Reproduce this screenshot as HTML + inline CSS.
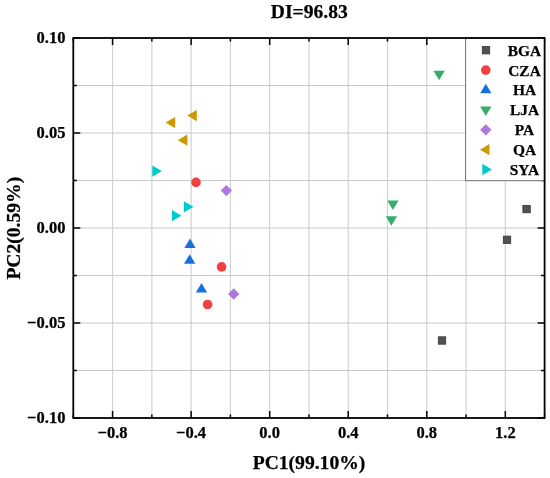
<!DOCTYPE html>
<html><head><meta charset="utf-8"><title>PCA plot</title>
<style>
html,body{margin:0;padding:0;background:#fff;}
svg{display:block;}
text{font-family:'Liberation Serif','Times New Roman',serif;font-weight:bold;fill:#000;stroke:#000;stroke-width:0.25px;}
</style></head>
<body>
<svg width="550" height="478" viewBox="0 0 550 478">
<line x1="112.57" y1="38.00" x2="112.57" y2="418.00" stroke="#d2d2d2" stroke-width="1.2"/>
<line x1="151.85" y1="38.00" x2="151.85" y2="418.00" stroke="#d2d2d2" stroke-width="1.2"/>
<line x1="191.12" y1="38.00" x2="191.12" y2="418.00" stroke="#d2d2d2" stroke-width="1.2"/>
<line x1="230.40" y1="38.00" x2="230.40" y2="418.00" stroke="#d2d2d2" stroke-width="1.2"/>
<line x1="269.68" y1="38.00" x2="269.68" y2="418.00" stroke="#d2d2d2" stroke-width="1.2"/>
<line x1="308.95" y1="38.00" x2="308.95" y2="418.00" stroke="#d2d2d2" stroke-width="1.2"/>
<line x1="348.23" y1="38.00" x2="348.23" y2="418.00" stroke="#d2d2d2" stroke-width="1.2"/>
<line x1="387.50" y1="38.00" x2="387.50" y2="418.00" stroke="#d2d2d2" stroke-width="1.2"/>
<line x1="426.78" y1="38.00" x2="426.78" y2="418.00" stroke="#d2d2d2" stroke-width="1.2"/>
<line x1="466.05" y1="38.00" x2="466.05" y2="418.00" stroke="#d2d2d2" stroke-width="1.2"/>
<line x1="505.33" y1="38.00" x2="505.33" y2="418.00" stroke="#d2d2d2" stroke-width="1.2"/>
<line x1="73.30" y1="85.50" x2="544.60" y2="85.50" stroke="#c8c8c8" stroke-width="1"/>
<line x1="73.30" y1="133.00" x2="544.60" y2="133.00" stroke="#c8c8c8" stroke-width="1"/>
<line x1="73.30" y1="180.50" x2="544.60" y2="180.50" stroke="#c8c8c8" stroke-width="1"/>
<line x1="73.30" y1="228.00" x2="544.60" y2="228.00" stroke="#c8c8c8" stroke-width="1"/>
<line x1="73.30" y1="275.50" x2="544.60" y2="275.50" stroke="#c8c8c8" stroke-width="1"/>
<line x1="73.30" y1="323.00" x2="544.60" y2="323.00" stroke="#c8c8c8" stroke-width="1"/>
<line x1="73.30" y1="370.50" x2="544.60" y2="370.50" stroke="#c8c8c8" stroke-width="1"/>
<rect x="522.90" y="205.40" width="7.40" height="7.40" fill="#515151" stroke="#383838" stroke-width="0.8"/>
<rect x="503.30" y="236.10" width="7.40" height="7.40" fill="#515151" stroke="#383838" stroke-width="0.8"/>
<rect x="438.30" y="336.80" width="7.40" height="7.40" fill="#515151" stroke="#383838" stroke-width="0.8"/>
<circle cx="196.00" cy="182.40" r="4.8" fill="#F14040"/>
<circle cx="221.60" cy="266.90" r="4.8" fill="#F14040"/>
<circle cx="207.60" cy="304.50" r="4.8" fill="#F14040"/>
<polygon points="190.00,238.40 195.65,248.00 184.35,248.00" fill="#1A6FDF"/>
<polygon points="189.70,254.20 195.35,263.80 184.05,263.80" fill="#1A6FDF"/>
<polygon points="201.50,283.00 207.15,292.60 195.85,292.60" fill="#1A6FDF"/>
<polygon points="439.10,80.30 444.75,70.70 433.45,70.70" fill="#37AD6B"/>
<polygon points="392.90,210.10 398.55,200.50 387.25,200.50" fill="#37AD6B"/>
<polygon points="391.40,225.80 397.05,216.20 385.75,216.20" fill="#37AD6B"/>
<polygon points="226.40,184.95 232.05,190.60 226.40,196.25 220.75,190.60" fill="#B177DE"/>
<polygon points="233.70,288.35 239.35,294.00 233.70,299.65 228.05,294.00" fill="#B177DE"/>
<polygon points="187.20,115.60 196.80,109.95 196.80,121.25" fill="#CC9900"/>
<polygon points="165.60,122.60 175.20,116.95 175.20,128.25" fill="#CC9900"/>
<polygon points="177.80,140.20 187.40,134.55 187.40,145.85" fill="#CC9900"/>
<polygon points="161.90,171.10 152.30,165.45 152.30,176.75" fill="#00CBCC"/>
<polygon points="193.50,206.80 183.90,201.15 183.90,212.45" fill="#00CBCC"/>
<polygon points="181.50,215.70 171.90,210.05 171.90,221.35" fill="#00CBCC"/>
<line x1="73.30" y1="418.00" x2="73.30" y2="414.50" stroke="#000" stroke-width="1.5"/>
<line x1="73.30" y1="38.00" x2="73.30" y2="41.50" stroke="#000" stroke-width="1.5"/>
<line x1="112.57" y1="418.00" x2="112.57" y2="411.00" stroke="#000" stroke-width="1.5"/>
<line x1="112.57" y1="38.00" x2="112.57" y2="45.00" stroke="#000" stroke-width="1.5"/>
<line x1="151.85" y1="418.00" x2="151.85" y2="414.50" stroke="#000" stroke-width="1.5"/>
<line x1="151.85" y1="38.00" x2="151.85" y2="41.50" stroke="#000" stroke-width="1.5"/>
<line x1="191.12" y1="418.00" x2="191.12" y2="411.00" stroke="#000" stroke-width="1.5"/>
<line x1="191.12" y1="38.00" x2="191.12" y2="45.00" stroke="#000" stroke-width="1.5"/>
<line x1="230.40" y1="418.00" x2="230.40" y2="414.50" stroke="#000" stroke-width="1.5"/>
<line x1="230.40" y1="38.00" x2="230.40" y2="41.50" stroke="#000" stroke-width="1.5"/>
<line x1="269.68" y1="418.00" x2="269.68" y2="411.00" stroke="#000" stroke-width="1.5"/>
<line x1="269.68" y1="38.00" x2="269.68" y2="45.00" stroke="#000" stroke-width="1.5"/>
<line x1="308.95" y1="418.00" x2="308.95" y2="414.50" stroke="#000" stroke-width="1.5"/>
<line x1="308.95" y1="38.00" x2="308.95" y2="41.50" stroke="#000" stroke-width="1.5"/>
<line x1="348.23" y1="418.00" x2="348.23" y2="411.00" stroke="#000" stroke-width="1.5"/>
<line x1="348.23" y1="38.00" x2="348.23" y2="45.00" stroke="#000" stroke-width="1.5"/>
<line x1="387.50" y1="418.00" x2="387.50" y2="414.50" stroke="#000" stroke-width="1.5"/>
<line x1="387.50" y1="38.00" x2="387.50" y2="41.50" stroke="#000" stroke-width="1.5"/>
<line x1="426.78" y1="418.00" x2="426.78" y2="411.00" stroke="#000" stroke-width="1.5"/>
<line x1="426.78" y1="38.00" x2="426.78" y2="45.00" stroke="#000" stroke-width="1.5"/>
<line x1="466.05" y1="418.00" x2="466.05" y2="414.50" stroke="#000" stroke-width="1.5"/>
<line x1="466.05" y1="38.00" x2="466.05" y2="41.50" stroke="#000" stroke-width="1.5"/>
<line x1="505.33" y1="418.00" x2="505.33" y2="411.00" stroke="#000" stroke-width="1.5"/>
<line x1="505.33" y1="38.00" x2="505.33" y2="45.00" stroke="#000" stroke-width="1.5"/>
<line x1="544.60" y1="418.00" x2="544.60" y2="414.50" stroke="#000" stroke-width="1.5"/>
<line x1="544.60" y1="38.00" x2="544.60" y2="41.50" stroke="#000" stroke-width="1.5"/>
<line x1="73.30" y1="38.00" x2="80.30" y2="38.00" stroke="#000" stroke-width="1.5"/>
<line x1="544.60" y1="38.00" x2="537.60" y2="38.00" stroke="#000" stroke-width="1.5"/>
<line x1="73.30" y1="85.50" x2="76.80" y2="85.50" stroke="#000" stroke-width="1.5"/>
<line x1="544.60" y1="85.50" x2="541.10" y2="85.50" stroke="#000" stroke-width="1.5"/>
<line x1="73.30" y1="133.00" x2="80.30" y2="133.00" stroke="#000" stroke-width="1.5"/>
<line x1="544.60" y1="133.00" x2="537.60" y2="133.00" stroke="#000" stroke-width="1.5"/>
<line x1="73.30" y1="180.50" x2="76.80" y2="180.50" stroke="#000" stroke-width="1.5"/>
<line x1="544.60" y1="180.50" x2="541.10" y2="180.50" stroke="#000" stroke-width="1.5"/>
<line x1="73.30" y1="228.00" x2="80.30" y2="228.00" stroke="#000" stroke-width="1.5"/>
<line x1="544.60" y1="228.00" x2="537.60" y2="228.00" stroke="#000" stroke-width="1.5"/>
<line x1="73.30" y1="275.50" x2="76.80" y2="275.50" stroke="#000" stroke-width="1.5"/>
<line x1="544.60" y1="275.50" x2="541.10" y2="275.50" stroke="#000" stroke-width="1.5"/>
<line x1="73.30" y1="323.00" x2="80.30" y2="323.00" stroke="#000" stroke-width="1.5"/>
<line x1="544.60" y1="323.00" x2="537.60" y2="323.00" stroke="#000" stroke-width="1.5"/>
<line x1="73.30" y1="370.50" x2="76.80" y2="370.50" stroke="#000" stroke-width="1.5"/>
<line x1="544.60" y1="370.50" x2="541.10" y2="370.50" stroke="#000" stroke-width="1.5"/>
<line x1="73.30" y1="418.00" x2="80.30" y2="418.00" stroke="#000" stroke-width="1.5"/>
<line x1="544.60" y1="418.00" x2="537.60" y2="418.00" stroke="#000" stroke-width="1.5"/>
<rect x="465.60" y="38.00" width="79.00" height="142.70" fill="#fff" stroke="#707070" stroke-width="1"/>
<rect x="482.30" y="46.50" width="7.40" height="7.40" fill="#515151" stroke="#383838" stroke-width="0.8"/>
<circle cx="485.80" cy="70.10" r="4.8" fill="#F14040"/>
<polygon points="485.80,83.70 491.45,93.30 480.15,93.30" fill="#1A6FDF"/>
<polygon points="485.80,116.10 491.45,106.50 480.15,106.50" fill="#37AD6B"/>
<polygon points="485.80,124.15 491.45,129.80 485.80,135.45 480.15,129.80" fill="#B177DE"/>
<polygon points="479.90,149.70 489.50,144.05 489.50,155.35" fill="#CC9900"/>
<polygon points="491.90,169.50 482.30,163.85 482.30,175.15" fill="#00CBCC"/>
<text x="524.5" y="55.60" text-anchor="middle" font-size="15.4">BGA</text>
<text x="524.5" y="75.50" text-anchor="middle" font-size="15.4">CZA</text>
<text x="524.5" y="95.40" text-anchor="middle" font-size="15.4">HA</text>
<text x="524.5" y="115.30" text-anchor="middle" font-size="15.4">LJA</text>
<text x="524.5" y="135.20" text-anchor="middle" font-size="15.4">PA</text>
<text x="524.5" y="155.10" text-anchor="middle" font-size="15.4">QA</text>
<text x="524.5" y="175.00" text-anchor="middle" font-size="15.4">SYA</text>
<rect x="73.30" y="38.00" width="471.30" height="380.00" fill="none" stroke="#000" stroke-width="1.8"/>
<text x="112.57" y="438.1" text-anchor="middle" font-size="16.5">−0.8</text>
<text x="191.12" y="438.1" text-anchor="middle" font-size="16.5">−0.4</text>
<text x="269.68" y="438.1" text-anchor="middle" font-size="16.5">0.0</text>
<text x="348.23" y="438.1" text-anchor="middle" font-size="16.5">0.4</text>
<text x="426.78" y="438.1" text-anchor="middle" font-size="16.5">0.8</text>
<text x="505.33" y="438.1" text-anchor="middle" font-size="16.5">1.2</text>
<text x="65.4" y="43.40" text-anchor="end" font-size="16.5">0.10</text>
<text x="65.4" y="138.40" text-anchor="end" font-size="16.5">0.05</text>
<text x="65.4" y="233.40" text-anchor="end" font-size="16.5">0.00</text>
<text x="65.4" y="328.40" text-anchor="end" font-size="16.5">−0.05</text>
<text x="65.4" y="423.40" text-anchor="end" font-size="16.5">−0.10</text>
<text x="309.3" y="18.3" text-anchor="middle" font-size="19.6">DI=96.83</text>
<text x="309.0" y="469.0" text-anchor="middle" font-size="19.6">PC1(99.10%)</text>
<text transform="translate(19.5,228.2) rotate(-90)" x="0" y="0" text-anchor="middle" font-size="19.6">PC2(0.59%)</text>
</svg>
</body></html>
